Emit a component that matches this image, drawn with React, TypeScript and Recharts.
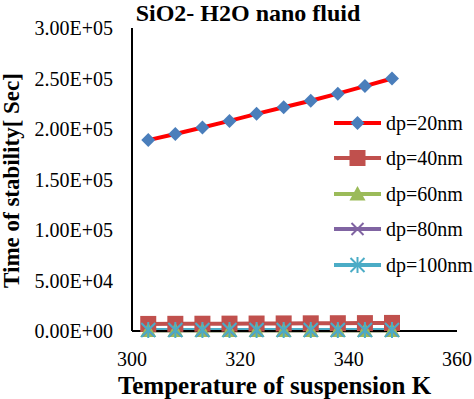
import React from 'react';
import { LineChart, Line, XAxis, YAxis, Legend, Label } from 'recharts';

const temperatures = [303, 308, 313, 318, 323, 328, 333, 338, 343, 348];
const dp20 = [189000, 195000, 201500, 208000, 215000, 221500, 228000, 235000, 242500, 250000];
const dp40 = [7000, 7100, 7200, 7300, 7400, 7500, 7600, 7700, 7800, 8000];
const dp60 = [500, 500, 500, 500, 500, 500, 500, 500, 500, 500];
const dp80 = [800, 800, 800, 800, 800, 800, 800, 800, 800, 800];
const dp100 = [1000, 1000, 1000, 1000, 1000, 1000, 1000, 1000, 1000, 1000];
const seriesNames = ['dp=20nm', 'dp=40nm', 'dp=60nm', 'dp=80nm', 'dp=100nm'];
const xTicks = [300, 320, 340, 360];
const yTicks = [0, 50000, 100000, 150000, 200000, 250000, 300000];
const title = 'SiO2- H2O nano fluid';
const xTitle = 'Temperature of suspension K';
const yTitle = 'Time of stability[ Sec]';

const data = temperatures.map((t, i) => ({
  t,
  dp20: dp20[i],
  dp40: dp40[i],
  dp60: dp60[i],
  dp80: dp80[i],
  dp100: dp100[i],
}));

type MarkerKind = 'diamond' | 'square' | 'triangle' | 'x' | 'star';

const series: { key: string; name: string; line: string; marker: string; kind: MarkerKind }[] = [
  { key: 'dp20', name: seriesNames[0], line: '#FF0000', marker: '#4A7EBB', kind: 'diamond' },
  { key: 'dp40', name: seriesNames[1], line: '#C0504D', marker: '#C0504D', kind: 'square' },
  { key: 'dp60', name: seriesNames[2], line: '#9BBB59', marker: '#9BBB59', kind: 'triangle' },
  { key: 'dp80', name: seriesNames[3], line: '#8064A2', marker: '#8064A2', kind: 'x' },
  { key: 'dp100', name: seriesNames[4], line: '#4BACC6', marker: '#4BACC6', kind: 'star' },
];

const FONT = '"Liberation Serif", "Times New Roman", serif';

function Marker({ cx, cy, kind, color }: { cx: number; cy: number; kind: MarkerKind; color: string }) {
  if (cx == null || cy == null) return null;
  switch (kind) {
    case 'diamond': {
      const r = 7;
      return <path d={`M${cx},${cy - r}L${cx + r},${cy}L${cx},${cy + r}L${cx - r},${cy}Z`} fill={color} />;
    }
    case 'square': {
      const h = 8;
      return <rect x={cx - h} y={cy - h} width={2 * h} height={2 * h} fill={color} />;
    }
    case 'triangle': {
      const r = 8;
      return <path d={`M${cx},${cy - r}L${cx + r},${cy + r * 0.8}L${cx - r},${cy + r * 0.8}Z`} fill={color} />;
    }
    case 'x': {
      const r = 6;
      return (
        <g stroke={color} strokeWidth={2}>
          <line x1={cx - r} y1={cy - r} x2={cx + r} y2={cy + r} />
          <line x1={cx - r} y1={cy + r} x2={cx + r} y2={cy - r} />
        </g>
      );
    }
    case 'star': {
      const r = 7;
      return (
        <g stroke={color} strokeWidth={2}>
          <line x1={cx - r} y1={cy - r} x2={cx + r} y2={cy + r} />
          <line x1={cx - r} y1={cy + r} x2={cx + r} y2={cy - r} />
          <line x1={cx} y1={cy - r - 1} x2={cx} y2={cy + r + 1} />
        </g>
      );
    }
  }
  return null;
}

const fmtSci = (v: number) => {
  if (v === 0) return '0.00E+00';
  const e = Math.floor(Math.log10(Math.abs(v)));
  const m = v / Math.pow(10, e);
  return `${m.toFixed(2)}E+${String(e).padStart(2, '0')}`;
};

function LegendContent() {
  return (
    <div style={{ fontFamily: FONT, fontSize: 20, color: '#000' }}>
      {series.map((s) => (
        <div key={s.key} style={{ height: 35.5, display: 'flex', alignItems: 'center' }}>
          <svg width={52} height={24} style={{ display: 'block' }}>
            <line x1={0} y1={12} x2={47} y2={12} stroke={s.line} strokeWidth={4} />
            <Marker cx={23.5} cy={12} kind={s.kind} color={s.marker} />
          </svg>
          <span style={{ lineHeight: '24px' }}>{s.name}</span>
        </div>
      ))}
    </div>
  );
}

export default function App() {
  return (
    <div style={{ position: 'absolute', left: 0, top: 0, width: 474, height: 399, background: '#fff' }}>
      <LineChart width={474} height={399} data={data} margin={{ top: 28, right: 17, bottom: 0, left: 0 }}>
        <XAxis
          dataKey="t"
          type="number"
          domain={[300, 360]}
          ticks={xTicks}
          height={68}
          axisLine={{ stroke: '#000', strokeWidth: 2 }}
          tickLine={false}
          tickSize={0}
          tickMargin={21}
          tick={{ fill: '#000', fontSize: 20, fontFamily: FONT }}
        >
          <Label
            content={(props: any) => {
              const vb = props.viewBox || { x: 132, y: 331, width: 325, height: 68 };
              return (
                <text
                  x={vb.x + vb.width / 2 - 20}
                  y={vb.y + 63}
                  textAnchor="middle"
                  fontFamily={FONT}
                  fontWeight="bold"
                  fontSize={25}
                  fill="#000"
                >
                  {xTitle}
                </text>
              );
            }}
          />
        </XAxis>
        <YAxis
          type="number"
          domain={[0, 300000]}
          ticks={yTicks}
          width={132}
          interval={0}
          axisLine={{ stroke: '#000', strokeWidth: 2 }}
          tickLine={false}
          tickSize={0}
          tickMargin={19}
          tickFormatter={fmtSci}
          tick={{ fill: '#000', fontSize: 20, fontFamily: FONT }}
        >
          <Label
            content={(props: any) => {
              const vb = props.viewBox || { x: 0, y: 28, width: 132, height: 303 };
              const cx = 19;
              const cy = vb.y + vb.height / 2 + 1;
              return (
                <text
                  x={cx}
                  y={cy}
                  transform={`rotate(-90, ${cx}, ${cy})`}
                  textAnchor="middle"
                  fontFamily={FONT}
                  fontWeight="bold"
                  fontSize={23}
                  fill="#000"
                >
                  {yTitle}
                </text>
              );
            }}
          />
        </YAxis>
        <Legend
          layout="vertical"
          align="center"
          verticalAlign="middle"
          content={() => <LegendContent />}
          wrapperStyle={{ left: 334, top: 105, width: 140 }}
        />
        {series.map((s) => (
          <Line
            key={s.key}
            type="linear"
            dataKey={s.key}
            name={s.name}
            stroke={s.line}
            strokeWidth={4}
            isAnimationActive={false}
            dot={(p: any) => <Marker key={`${s.key}-${p.index}`} cx={p.cx} cy={p.cy} kind={s.kind} color={s.marker} />}
            activeDot={false}
          />
        ))}
      </LineChart>
      <div
        style={{
          position: 'absolute',
          left: 0,
          top: 0,
          width: 496,
          textAlign: 'center',
          fontFamily: FONT,
          fontWeight: 'bold',
          fontSize: 24,
          lineHeight: 'normal',
          color: '#000',
          whiteSpace: 'nowrap',
        }}
      >
        {title}
      </div>
    </div>
  );
}
